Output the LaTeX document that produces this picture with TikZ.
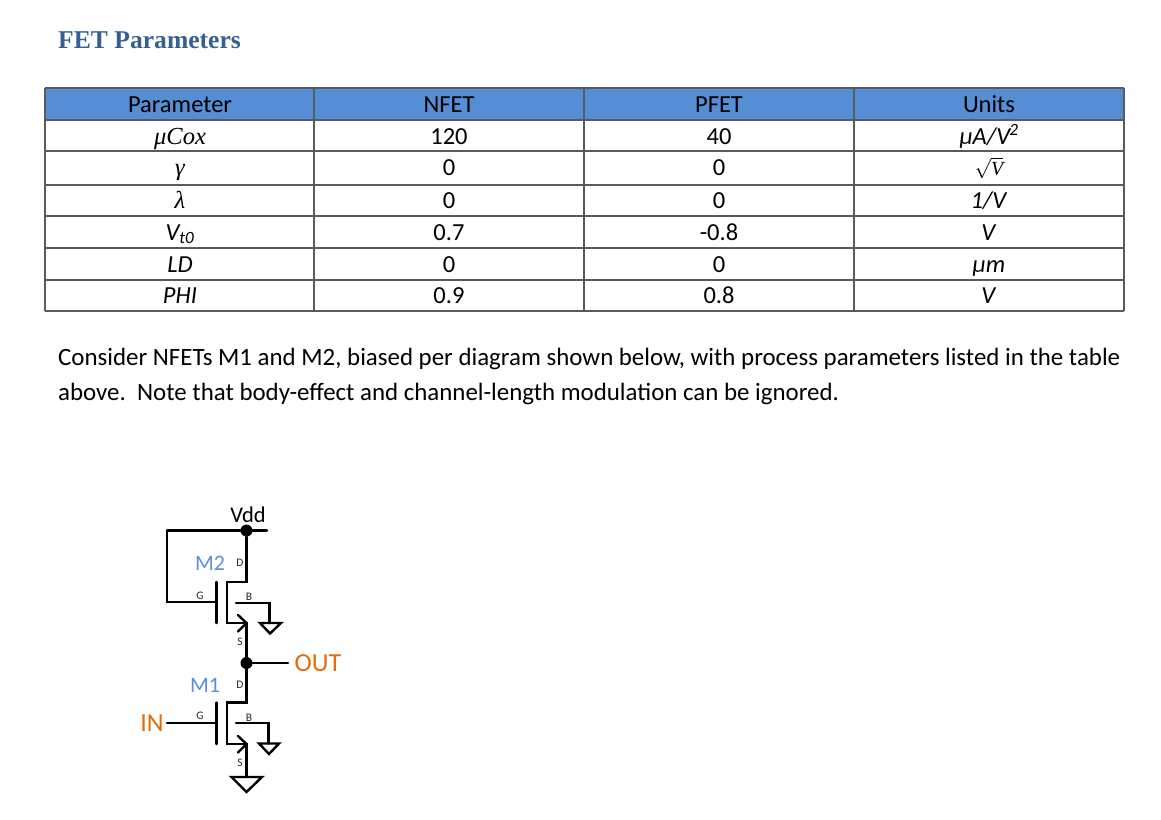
\documentclass[tikz,border=0pt]{standalone}
\usepackage{fix-cm}
\usepackage{amsmath,amssymb}
\usepackage[no-math]{fontspec}
\setmainfont{Carlito}
\newfontfamily\titlefont{Liberation Serif}
\usepackage{tikz}
\definecolor{headblue}{RGB}{85,142,213}
\definecolor{rulegray}{RGB}{90,90,90}
\definecolor{titleblue}{RGB}{54,95,145}
\definecolor{labelblue}{RGB}{91,143,214}
\definecolor{labelorange}{RGB}{228,108,10}
\tikzset{
  cell/.style={anchor=base,inner sep=0pt,font=\fontsize{24.5}{28}\selectfont},
  para/.style={anchor=base west,inner sep=0pt,font=\fontsize{24.9}{28}\selectfont},
  tablerule/.style={rulegray,line width=1.3pt},
  wire/.style={black,line width=2.4pt,line cap=round,line join=miter},
  pin/.style={inner sep=0pt,text=black!85,font=\fontsize{11.5}{12}\selectfont},
  devname/.style={inner sep=0pt,text=labelblue,font=\fontsize{22}{26}\selectfont},
  portname/.style={inner sep=0pt,text=labelorange,font=\fontsize{26}{30}\selectfont},
  junction/.style={circle,fill=black,inner sep=0pt,minimum size=12pt}
}
\begin{document}
\begin{tikzpicture}[x=1pt,y=-1pt]
    \useasboundingbox (0,0) rectangle (1161,819);
    \node[anchor=base west,inner sep=0pt,text=titleblue,font=\titlefont\bfseries\fontsize{25.6}{30}\selectfont] (title) at (58,48) {FET Parameters};
    % table
    \fill[headblue] (45,88) rectangle (1124,120);
    \draw[tablerule] (45,88) -- (1124,88);
    \draw[tablerule] (45,120) -- (1124,120);
    \draw[tablerule] (45,151) -- (1124,151);
    \draw[tablerule] (45,185) -- (1124,185);
    \draw[tablerule] (45,216) -- (1124,216);
    \draw[tablerule] (45,248) -- (1124,248);
    \draw[tablerule] (45,280) -- (1124,280);
    \draw[tablerule] (45,311) -- (1124,311);
    \draw[tablerule] (45,88) -- (45,311);
    \draw[tablerule] (314,88) -- (314,311);
    \draw[tablerule] (584,88) -- (584,311);
    \draw[tablerule] (854,88) -- (854,311);
    \draw[tablerule] (1124,88) -- (1124,311);
    \node[cell] (p0) at (180,112) {Parameter};
    \node[cell] (p1) at (180,144) {\titlefont\itshape μCox};
    \node[cell] (p2) at (180,175) {\titlefont\itshape γ};
    \node[cell] (p3) at (180,208) {\titlefont\itshape λ};
    \node[cell] (p4) at (180,240) {\textit{V\textsubscript{t0}}};
    \node[cell] (p5) at (180,272) {\textit{LD}};
    \node[cell] (p6) at (180,303) {\textit{PHI}};
    \node[cell] (n0) at (449,112) {NFET};
    \node[cell] (n1) at (449,144) {120};
    \node[cell] (n2) at (449,175) {0};
    \node[cell] (n3) at (449,208) {0};
    \node[cell] (n4) at (449,240) {0.7};
    \node[cell] (n5) at (449,272) {0};
    \node[cell] (n6) at (449,303) {0.9};
    \node[cell] (f0) at (719,112) {PFET};
    \node[cell] (f1) at (719,144) {40};
    \node[cell] (f2) at (719,175) {0};
    \node[cell] (f3) at (719,208) {0};
    \node[cell] (f4) at (719,240) {-0.8};
    \node[cell] (f5) at (719,272) {0};
    \node[cell] (f6) at (719,303) {0.8};
    \node[cell] (u0) at (989,112) {Units};
    \node[cell] (u1) at (989,144) {\textit{μA/V\kern-1pt\textsuperscript{2}}};
    \node[cell,font=\fontsize{20}{24}\selectfont] (u2) at (989,175.5) {$\sqrt{\text{\titlefont\itshape V}}$};
    \node[cell] (u3) at (989,208) {\textit{1/V}};
    \node[cell] (u4) at (989,240) {\textit{V}};
    \node[cell] (u5) at (989,272) {\textit{μm}};
    \node[cell] (u6) at (989,303) {\textit{V}};
    % text
    \node[para] (line1) at (58,365) {Consider NFETs M1 and M2, biased per diagram shown below, with process parameters listed in the table};
    \node[para] (line2) at (58,400) {above.\ \ Note that body-effect and channel-length modulation can be ignored.};
    % M2
    \node[junction] (vdd) at (246.5,530.5) {};
    \node[junction] (out) at (246.5,663) {};
    \coordinate (vl) at (167,530.5);
    \coordinate (vr) at (267,530.5);
    \coordinate (g2) at (216.5,602);
    \coordinate (dt) at (227,582);
    \coordinate (sb) at (227,623);
    \coordinate (st) at (246.5,623);
    \draw[wire] (vl) -- (vr);
    \draw[wire] (vl) |- (g2);
    \draw[wire] (216.5,582) -- (216.5,623);
    \draw[wire] (vdd) |- (dt) -- (sb) -- (st) -- (out);
    \draw[wire] (238,615) -- (st) -- (238,631.5);
    \coordinate (b2) at (236,603);
    \coordinate (bg2) at (269.5,623);
    \draw[wire] (b2) -| (bg2);
    \draw[wire] (260,623) -- (281,623) -- (270,633.5) -- cycle;
    % M1
    \coordinate (g1) at (216.5,723);
    \coordinate (in) at (167,723);
    \coordinate (outr) at (288,663);
    \coordinate (dt1) at (227,702.5);
    \coordinate (sb1) at (227,744);
    \coordinate (st1) at (246.5,744);
    \coordinate (gnd) at (246.5,777);
    \draw[wire] (in) -- (g1);
    \draw[wire] (out) -- (outr);
    \draw[wire] (216.5,702.5) -- (216.5,744);
    \draw[wire] (out) |- (dt1) -- (sb1) -- (st1) -- (gnd);
    \draw[wire] (238,736) -- (st1) -- (238,752.5);
    \coordinate (b1) at (236,723);
    \coordinate (bg1) at (268.5,743.5);
    \draw[wire] (b1) -| (bg1);
    \draw[wire] (259,743.5) -- (279,743.5) -- (269,754) -- cycle;
    \draw[wire] (231.5,777) -- (262,777) -- (246.5,792) -- cycle;
    % labels
    \node[inner sep=0pt,font=\fontsize{22.5}{26}\selectfont] (vddl) at (248,515) {Vdd};
    \node[devname] (m2) at (210,563) {M2};
    \node[devname] (m1) at (205,685) {M1};
    \node[portname] (outl) at (318,663) {OUT};
    \node[portname] (inl) at (152,723) {IN};
    \node[pin] (d2) at (240,563) {D};
    \node[pin] (g2l) at (200,596) {G};
    \node[pin] (b2l) at (249,596.5) {B};
    \node[pin] (s2) at (240,641.5) {S};
    \node[pin] (d1) at (240,684.5) {D};
    \node[pin] (g1l) at (200,716) {G};
    \node[pin] (b1l) at (249,717.5) {B};
    \node[pin] (s1) at (240,763) {S};
\end{tikzpicture}
\end{document}
